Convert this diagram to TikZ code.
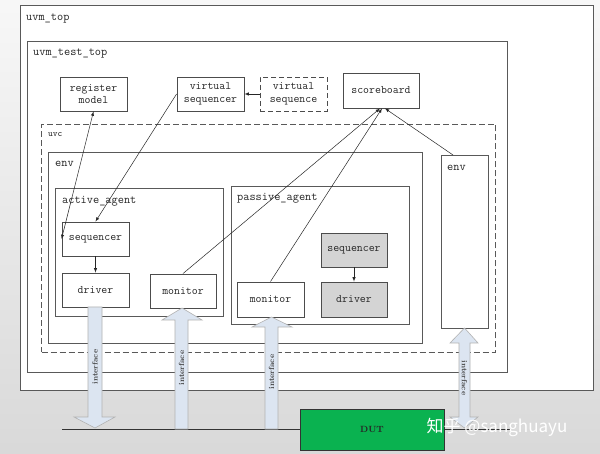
\documentclass[tikz,border=0pt]{standalone}
\usepackage{fontspec}
\newfontfamily\cjk{Noto Sans CJK SC}
\usetikzlibrary{calc}
\definecolor{ifblue}{RGB}{220,229,241}
\definecolor{dutgreen}{RGB}{10,178,80}
\begin{document}
\begin{tikzpicture}[x=1pt,y=-1pt]
	\tikzset{frame/.style={draw=black!65, line width=1pt, anchor=north west, inner sep=0pt}};
	\tikzset{blk/.style={draw=black!70, line width=0.9pt, minimum width=67pt, minimum height=34pt, inner sep=1pt, align=center, text=black!85, font=\ttfamily\fontsize{11.5}{12.5}\selectfont}};
	\tikzset{greyblk/.style={blk, fill=black!17}};
	\tikzset{lbl/.style={anchor=west, inner sep=0pt, text=black!85, font=\ttfamily\fontsize{12}{12}\selectfont}};
	\tikzset{iface/.style={fill=ifblue, draw=black!30, line width=0.6pt}};
	\tikzset{iftext/.style={inner sep=0pt, text=black!75, font=\rmfamily\bfseries\fontsize{7.5}{8}\selectfont}};
	\tikzset{link/.style={draw=black!85, line width=0.5pt}};

	% background
	\shade[top color=black!3, bottom color=black!15] (0,0) rectangle (600,454);
	\useasboundingbox (0,0) rectangle (600,454);

	% containers
	\node[frame, fill=white, minimum width=573pt, minimum height=385pt] (uvmtop) at (20,5) {};
	\node[frame, minimum width=480pt, minimum height=331pt] (testtop) at (27,41) {};
	\node[frame, dashed, dash pattern=on 6pt off 3pt, minimum width=454pt, minimum height=228pt] (uvc) at (41,124) {};
	\node[frame, minimum width=374pt, minimum height=191pt] (env) at (48,152) {};
	\node[frame, minimum width=168pt, minimum height=128pt] (active) at (55,188) {};
	\node[frame, minimum width=178pt, minimum height=138pt] (passive) at (231,186) {};
	\node[frame, minimum width=47pt, minimum height=173pt] (envb) at (441,155) {};

	\node[lbl] (uvmtoplbl) at (26,19) {uvm\_top};
	\node[lbl] (testtoplbl) at (33,54) {uvm\_test\_top};
	\node[lbl, font=\ttfamily\fontsize{9}{10}\selectfont] (uvclbl) at (48,135) {uvc};
	\node[lbl] (envlbl) at (55,164) {env};
	\node[lbl] (activelbl) at (62,201) {active\_agent};
	\node[lbl] (passivelbl) at (237,198) {passive\_agent};
	\node[lbl] (envblbl) at (447,168) {env};

	% components
	\node[blk] (regmodel) at (93.5,94) {register\\model};
	\node[blk] (vseqr) at (210.5,94) {virtual\\sequencer};
	\node[blk, dashed, dash pattern=on 5pt off 3pt] (vseq) at (293.5,94) {virtual\\sequence};
	\node[blk, minimum width=76pt, minimum height=35pt] (sb) at (381,90.5) {scoreboard};
	\node[blk] (seqr) at (95.5,239) {sequencer};
	\node[blk] (drv) at (95.5,290) {driver};
	\node[blk, minimum width=66pt] (mon) at (183,291) {monitor};
	\node[blk, minimum height=35pt] (pmon) at (270.5,299.5) {monitor};
	\node[greyblk, minimum width=66pt] (pseqr) at (354,250) {sequencer};
	\node[greyblk, minimum width=66pt, minimum height=35pt] (pdrv) at (354,299.5) {driver};

	% connectors
	\draw[link, latex-latex] (regmodel.south) -- (seqr.west);
	\draw[link, -latex] (vseqr.west) -- (seqr.north);
	\draw[link, -latex] (vseq.west) -- (vseqr.east);
	\draw[link, -latex] (seqr.south) -- (drv.north);
	\draw[link, -latex] (pseqr.south) -- (pdrv.north);
	\coordinate (envbtop) at ($(envb.north west)+(12,0)$);
	\draw[link, -latex] (mon.north) -- ($(sb.south)+(-1,0)$);
	\draw[link, -latex] (pmon.north) -- ($(sb.south)+(1,0)$);
	\draw[link, -latex] (envbtop) -- ($(sb.south)+(4,0)$);

	% bus and interfaces
	\coordinate (busl) at (62,429);
	\coordinate (busr) at (510,429);
	\draw[black!80, line width=0.8pt] (busl) -- (busr);

	\draw[iface] (88,307) -- (88,417) -- (74,417) -- (95,428) -- (115,417) -- (102,417) -- (102,307) -- cycle;
	\draw[iface] (175,429) -- (175,320) -- (162,320) -- (182,308) -- (202,320) -- (188,320) -- (188,429) -- cycle;
	\draw[iface] (265,429) -- (265,327) -- (252,327) -- (271.5,317) -- (292,327) -- (278,327) -- (278,429) -- cycle;
	\draw[iface] (459,343) -- (450,343) -- (464.5,328) -- (478,343) -- (470,343) -- (470,417) -- (478,417) -- (464.5,428) -- (450,417) -- (459,417) -- cycle;

	\node[iftext, rotate=90] (if1) at (95,367) {interface};
	\node[iftext, rotate=90] (if2) at (181.5,368) {interface};
	\node[iftext, rotate=90] (if3) at (271.5,372) {interface};
	\node[iftext, rotate=-90] (if4) at (464.5,378) {interface};

	% DUT
	\node[draw=black!80, line width=0.9pt, fill=dutgreen, minimum width=144pt, minimum height=41pt, text=black!85, font=\rmfamily\bfseries\fontsize{9}{10}\selectfont] (dut) at (372,429.5) {DUT};

	% watermark
	\node[text=white, font=\cjk\fontsize{17}{18}\selectfont] (mark) at (497,427) {知乎 @sanghuayu};
\end{tikzpicture}
\end{document}
